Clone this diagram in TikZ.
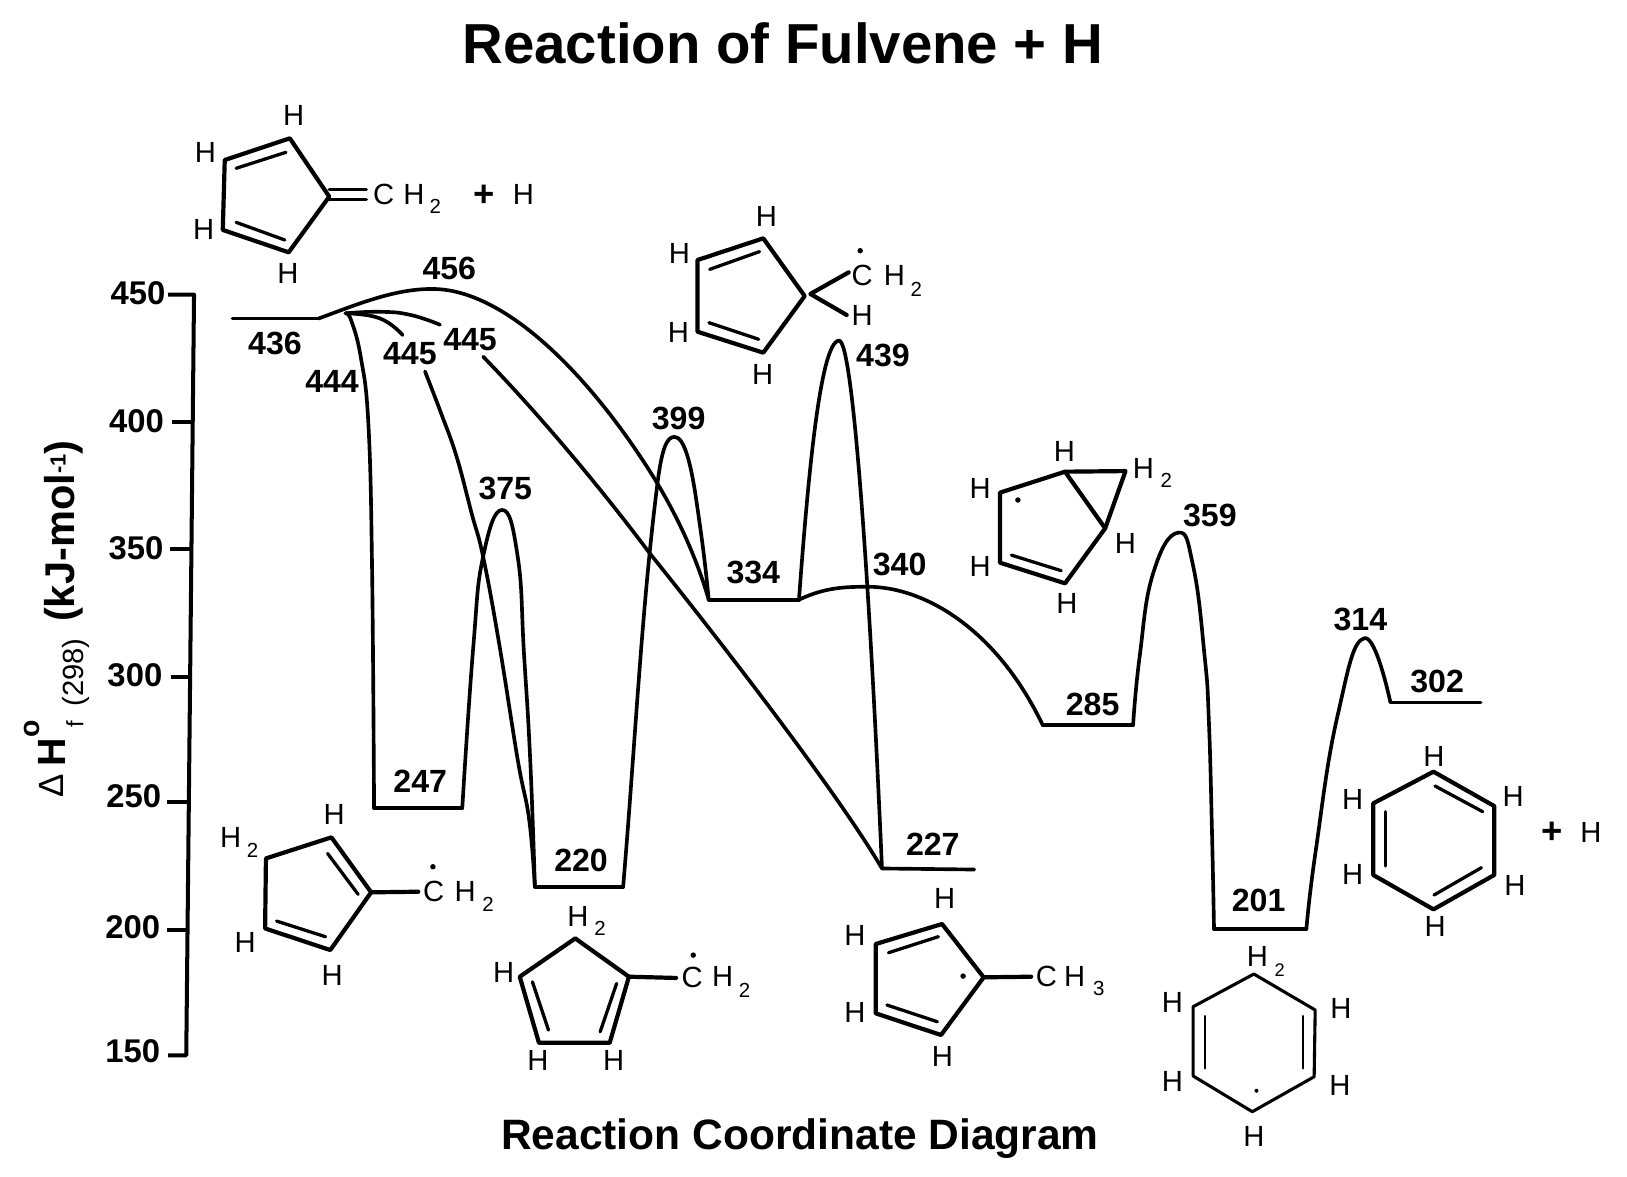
\documentclass[tikz,border=0pt]{standalone}
\usepackage{fontspec}
\setmainfont{Liberation Sans}
\newcommand{\fsz}[1]{\fontsize{#1}{#1}\selectfont}
\tikzset{
  base/.style={inner sep=0pt,outer sep=0pt,text depth=0pt},
  atom/.style={base,font=\fsz{8}},
  sub/.style={base,font=\fsz{5.6}},
  num/.style={base,font=\bfseries\fsz{8.8}},
  ticklab/.style={base,font=\bfseries\fsz{9}},
  curve/.style={line width=1pt,line join=round,line cap=round},
  ring/.style={line width=1.15pt,line join=round,line cap=round},
  inner/.style={line width=0.9pt,line cap=round},
  thin inner/.style={line width=0.6pt,line cap=round},
  axisline/.style={line width=1.1pt,line join=round},
  dotmark/.style={circle,fill=black,inner sep=0pt,minimum size=1.5pt}
}
\begin{document}
\begin{tikzpicture}[x=0.01cm,y=-0.01cm]
\useasboundingbox (0,0) rectangle (1568,1134);

% titles
\node[base,font=\bfseries\fsz{15.45}] (title) at (754.5,41.5) {Reaction of Fulvene + H};
\node[base,font=\bfseries\fsz{11.65}] (xlabel) at (771,1093) {Reaction Coordinate Diagram};

% axis
\coordinate (axT) at (187,284);
\coordinate (axB) at (179.5,1017);
\draw[axisline] (162,284) -- (axT) -- (axB) -- (162,1017);
\draw[axisline] (165.5,406.5) -- (185.8,406.5);
\draw[axisline] (164,529.5) -- (184.8,529.5);
\draw[axisline] (164.5,652.5) -- (183.8,652.5);
\draw[axisline] (160.7,772.5) -- (181.6,772.5);
\draw[axisline] (160.7,896) -- (180.3,896);
\node[ticklab] (t450) at (133,282) {450};
\node[ticklab] (t400) at (131.5,405.5) {400};
\node[ticklab] (t350) at (131,528.5) {350};
\node[ticklab] (t300) at (130,651) {300};
\node[ticklab] (t250) at (129,767) {250};
\node[ticklab] (t200) at (128,893.5) {200};
\node[ticklab] (t150) at (128,1012.5) {150};

% y label
\node[base,rotate=90,font=\fsz{9.6}] (ylD) at (50,757) {Δ};
\node[base,rotate=90,font=\bfseries\fsz{10.8}] (ylH) at (50.5,725) {H};
\node[base,rotate=90,font=\bfseries\fsz{7.8}] (ylo) at (31,702) {o};
\node[base,rotate=90,font=\fsz{6.5}] (ylf) at (72,698) {f};
\node[base,rotate=90,font=\fsz{8}] (yl298) at (70,648) {(298)};
\node[base,rotate=90,font=\bfseries\fsz{11.4}] (ylunit) at (57,512) {(kJ-mol{\fsz{6}\raisebox{.75ex}{-1}})};

% level end points
\coordinate (R1) at (224,307);
\coordinate (R2) at (307,307);
\coordinate (Rj) at (333,302);
\coordinate (a1) at (360.5,779);
\coordinate (a2) at (445.5,779);
\coordinate (b1) at (515.5,855);
\coordinate (b2) at (600.5,855);
\coordinate (c1) at (683,578);
\coordinate (c2) at (770,578);
\coordinate (d1) at (850,837);
\coordinate (d2) at (939,838);
\coordinate (e1) at (1005,699);
\coordinate (e2) at (1092,699);
\coordinate (f1) at (1170,895.5);
\coordinate (f2) at (1259,895.5);
\coordinate (g1) at (1340,677);
\coordinate (g2) at (1427,677);
% barrier tops
\coordinate (p456) at (416,278.5);
\coordinate (p399) at (650,421);
\coordinate (p439) at (808.7,328.3);
\coordinate (p340) at (836.4,565.5);

% levels
\draw[curve] (R1) -- (R2);
\draw[curve] (a1) -- (a2);
\draw[curve] (b1) -- (b2);
\draw[curve] (c1) -- (c2);
\draw[curve] (d1) -- (d2);
\draw[curve] (e1) -- (e2);
\draw[curve] (f1) -- (f2);
\draw[curve] (g1) -- (g2);

% curves
\draw[curve] (R2) .. controls (345,293) and (380,278.5) .. (p456)
  .. controls (490,278) and (575,370) .. (633,465)
  .. controls (660,510) and (675,550) .. (c1);
\draw[curve] plot[smooth,tension=.8] coordinates {(Rj) (366,300.5) (395.5,303.5) (424,313)};
\draw[curve] (465.6,343.7) .. controls (530,410) and (590,485) .. (626,533)
  .. controls (680,600) and (805,760) .. (d1);
\draw[curve] plot[smooth,tension=.8] coordinates {(Rj) (366,306.8) (388,322.9)};
\draw[curve] plot[smooth,tension=.7] coordinates {(409.6,358) (425,398) (440,440) (454.6,495) (465.6,536.5) (481,620) (499,732.5) (510,790) (b1)};
\draw[curve] plot[smooth,tension=.7] coordinates {(Rj) (338.3,308.4) (347.6,343.7) (355,408) (358.6,549.4) (a1)};
% 375 barrier
\draw[curve] plot[smooth,tension=.8] coordinates {(a2) (456,625) (465.6,536.5) (484,491.5) (499,537) (505,630) (511,732.5) (b1)};
% 399 barrier
\draw[curve] (b2) .. controls (612,720) and (618,590) .. (633.6,466)
  .. controls (638,431) and (643,421) .. (p399)
  .. controls (660,421) and (666,450) .. (670,475)
  .. controls (676,515) and (680,545) .. (c1);
% 439 barrier
\draw[curve] (c2) .. controls (778,470) and (790,328.3) .. (p439)
  .. controls (822,328.3) and (838,560) .. (d1);
% 340 plateau
\draw[curve] (c2) .. controls (795,566) and (815,565.5) .. (p340)
  .. controls (890,565.5) and (960,605) .. (e1);
% 359 barrier
\draw[curve] plot[smooth,tension=.8] coordinates {(e2) (1098.3,633) (1111.3,552.6) (1135.2,513.4) (1150,546) (1161,633) (1165,694) (1168,800) (f1)};
% 314 barrier
\draw[curve] plot[smooth,tension=.8] coordinates {(f2) (1268,820) (1289,690) (1315,615) (g1)};

% numbers
\node[num] (n436) at (265,331) {436};
\node[num] (n444) at (320,368) {444};
\node[num] (n445a) at (395,341) {445};
\node[num] (n445b) at (453,327) {445};
\node[num] (n456) at (433,259) {456};
\node[num] (n375) at (487,470.5) {375};
\node[num] (n399) at (654,403) {399};
\node[num] (n334) at (726,552) {334};
\node[num] (n439) at (851,342) {439};
\node[num] (n340) at (867,544) {340};
\node[num] (n285) at (1053,679) {285};
\node[num] (n359) at (1166,497) {359};
\node[num] (n314) at (1311,597) {314};
\node[num] (n302) at (1385,657) {302};
\node[num] (n247) at (405,753) {247};
\node[num] (n220) at (560,829) {220};
\node[num] (n227) at (899,814) {227};
\node[num] (n201) at (1213,868) {201};

% Fulvene + H
\draw[ring] (279.3,133.3) -- (216.6,154.2) -- (214.7,221.6) -- (278.2,243.2) -- (317.3,189.5) -- cycle;
\draw[inner] (227.6,162.2) -- (275.6,146.8);
\draw[inner] (227.6,214.3) -- (274.5,231.3);
\draw[inner] (317.3,182.4) -- (353.1,182.4);
\draw[inner] (317.3,192) -- (353.1,192);
\node[atom] (ma1) at (283,110.8) {H};
\node[atom] (ma2) at (198,146.8) {H};
\node[atom] (ma3) at (196.3,220.7) {H};
\node[atom] (ma4) at (277.4,264) {H};
\node[atom] (ma5) at (369.7,187.3) {C};
\node[atom] (ma6) at (399,187.3) {H};
\node[sub] (ma7) at (419.5,199) {2};
\node[base,font=\bfseries\fsz{10}] (ma8) at (467,189) {+};
\node[atom] (ma9) at (504.4,187.3) {H};

% top middle radical
\draw[ring] (735.6,229.7) -- (672.2,250.6) -- (672.2,319.7) -- (735.6,339.9) -- (775.5,285.3) -- cycle;
\draw[inner] (684,259.6) -- (732,242.5);
\draw[inner] (683.2,311) -- (731.2,327);
\draw[ring] (817.9,262.5) -- (781,283.3) -- (816,303.6);
\node[atom] (mb1) at (738.6,208.8) {H};
\node[atom] (mb2) at (654.8,244.1) {H};
\node[atom] (mb3) at (653.7,320.3) {H};
\node[atom] (mb4) at (734.9,360.5) {H};
\node[atom] (mb5) at (830.8,265) {C};
\node[dotmark] (mb6) at (829,241.6) {};
\node[atom] (mb7) at (862,265) {H};
\node[sub] (mb8) at (883,279) {2};
\node[atom] (mb9) at (830.8,303.6) {H};

% bicyclic radical
\draw[ring] (1026.4,454.6) -- (963.7,474.8) -- (963.7,542.3) -- (1026.4,562.2) -- (1065.1,509.2) -- cycle;
\draw[ring] (1026.4,454.6) -- (1084.7,454) -- (1065.1,509.2);
\draw[inner] (974.7,535) -- (1022.7,550);
\node[dotmark] (mc1) at (981,481.9) {};
\node[atom] (mc2) at (1025.7,435.3) {H};
\node[atom] (mc3) at (1102,451.4) {H};
\node[sub] (mc4) at (1124,462.6) {2};
\node[atom] (mc5) at (944.5,470.7) {H};
\node[atom] (mc6) at (944.5,546.2) {H};
\node[atom] (mc7) at (1084.7,523.7) {H};
\node[atom] (mc8) at (1028.2,582) {H};

% lower-left radical
\draw[ring] (319.4,807) -- (256.3,827.3) -- (255.5,894.8) -- (318.3,915.6) -- (357.7,860) -- cycle;
\draw[inner] (315.7,822.5) -- (345.2,862);
\draw[inner] (266.6,887.7) -- (313.8,902.8);
\draw[ring] (357.7,860) -- (403.1,859.4);
\node[atom] (md1) at (417.9,859.4) {C};
\node[dotmark] (md2) at (417.2,835.3) {};
\node[atom] (md3) at (448.2,859.4) {H};
\node[sub] (md4) at (470.3,871.6) {2};
\node[atom] (md5) at (322,784.6) {H};
\node[atom] (md6) at (222.3,807) {H};
\node[sub] (md7) at (243.4,819.2) {2};
\node[atom] (md8) at (236.3,908.2) {H};
\node[atom] (md9) at (320.1,939.7) {H};

% lower-middle radical
\draw[ring] (554.4,904.4) -- (500.9,941.3) -- (519.4,1005) -- (587.6,1005) -- (606.1,941.3) -- cycle;
\draw[inner] (513.1,946.2) -- (528.6,992.8);
\draw[inner] (594.3,947.8) -- (578.4,994.4);
\draw[ring] (606.1,941.3) -- (651.5,942.5);
\node[atom] (me1) at (667,942) {C};
\node[dotmark] (me2) at (668.1,920.5) {};
\node[atom] (me3) at (696.5,941.3) {H};
\node[sub] (me4) at (717.5,954.2) {2};
\node[atom] (me5) at (557,882.9) {H};
\node[sub] (me6) at (578.4,894.8) {2};
\node[atom] (me7) at (485.4,937.5) {H};
\node[atom] (me8) at (518.3,1022.3) {H};
\node[atom] (me9) at (591.3,1022.3) {H};

% methylcyclopentadienyl
\draw[ring] (907.9,890.5) -- (843.9,909.8) -- (843.9,976.6) -- (906.9,997.5) -- (948,941.9) -- cycle;
\draw[inner] (856.3,918.2) -- (904.4,902.7);
\draw[inner] (854.8,968.6) -- (903.4,984.7);
\draw[ring] (948,941.9) -- (993.7,941.3);
\node[dotmark] (mf1) at (928.2,940.7) {};
\node[atom] (mf2) at (1008.5,941.3) {C};
\node[atom] (mf3) at (1035.8,941.3) {H};
\node[sub] (mf4) at (1059,952.5) {3};
\node[atom] (mf5) at (910.3,865.8) {H};
\node[atom] (mf6) at (824,901.8) {H};
\node[atom] (mf7) at (824,975.7) {H};
\node[atom] (mf8) at (908.3,1018.4) {H};

% benzene + H
\draw[ring] (1381.5,743.7) -- (1440,776.8) -- (1440,843.3) -- (1381.5,876.4) -- (1323.5,843.3) -- (1323.5,774.2) -- cycle;
\draw[inner] (1383,757.5) -- (1429,782.3);
\draw[inner] (1335,782.3) -- (1335,834.6);
\draw[inner] (1382,862.6) -- (1427.7,836.2);
\node[atom] (mg1) at (1382,729.2) {H};
\node[atom] (mg2) at (1303.7,770) {H};
\node[atom] (mg3) at (1303.7,842.3) {H};
\node[atom] (mg4) at (1458.4,767.8) {H};
\node[atom] (mg5) at (1459.9,853.6) {H};
\node[atom] (mg6) at (1383,893) {H};
\node[base,font=\bfseries\fsz{10}] (mg7) at (1496,802.5) {+};
\node[atom] (mg8) at (1533.3,802.5) {H};

% cyclohexadienyl
\draw[line width=0.85pt,line join=round] (1208.4,938.7) -- (1267.5,973.4) -- (1266.5,1037.7) -- (1206.9,1071.4) -- (1149.9,1037) -- (1149.9,970.2) -- cycle;
\draw[thin inner] (1161.3,979.2) -- (1161.3,1029.7);
\draw[thin inner] (1255.5,979.2) -- (1255.5,1029.7);
\node[dotmark,minimum size=1.1pt] (mh1) at (1210.9,1051.2) {};
\node[atom] (mh2) at (1211.9,922) {H};
\node[sub,font=\fsz{5}] (mh3) at (1233.2,934.9) {2};
\node[atom] (mh4) at (1130,966) {H};
\node[atom] (mh5) at (1130,1042.5) {H};
\node[atom] (mh6) at (1292.3,971.8) {H};
\node[atom] (mh7) at (1291.3,1045.7) {H};
\node[atom] (mh8) at (1208.4,1095.5) {H};
\end{tikzpicture}
\end{document}
